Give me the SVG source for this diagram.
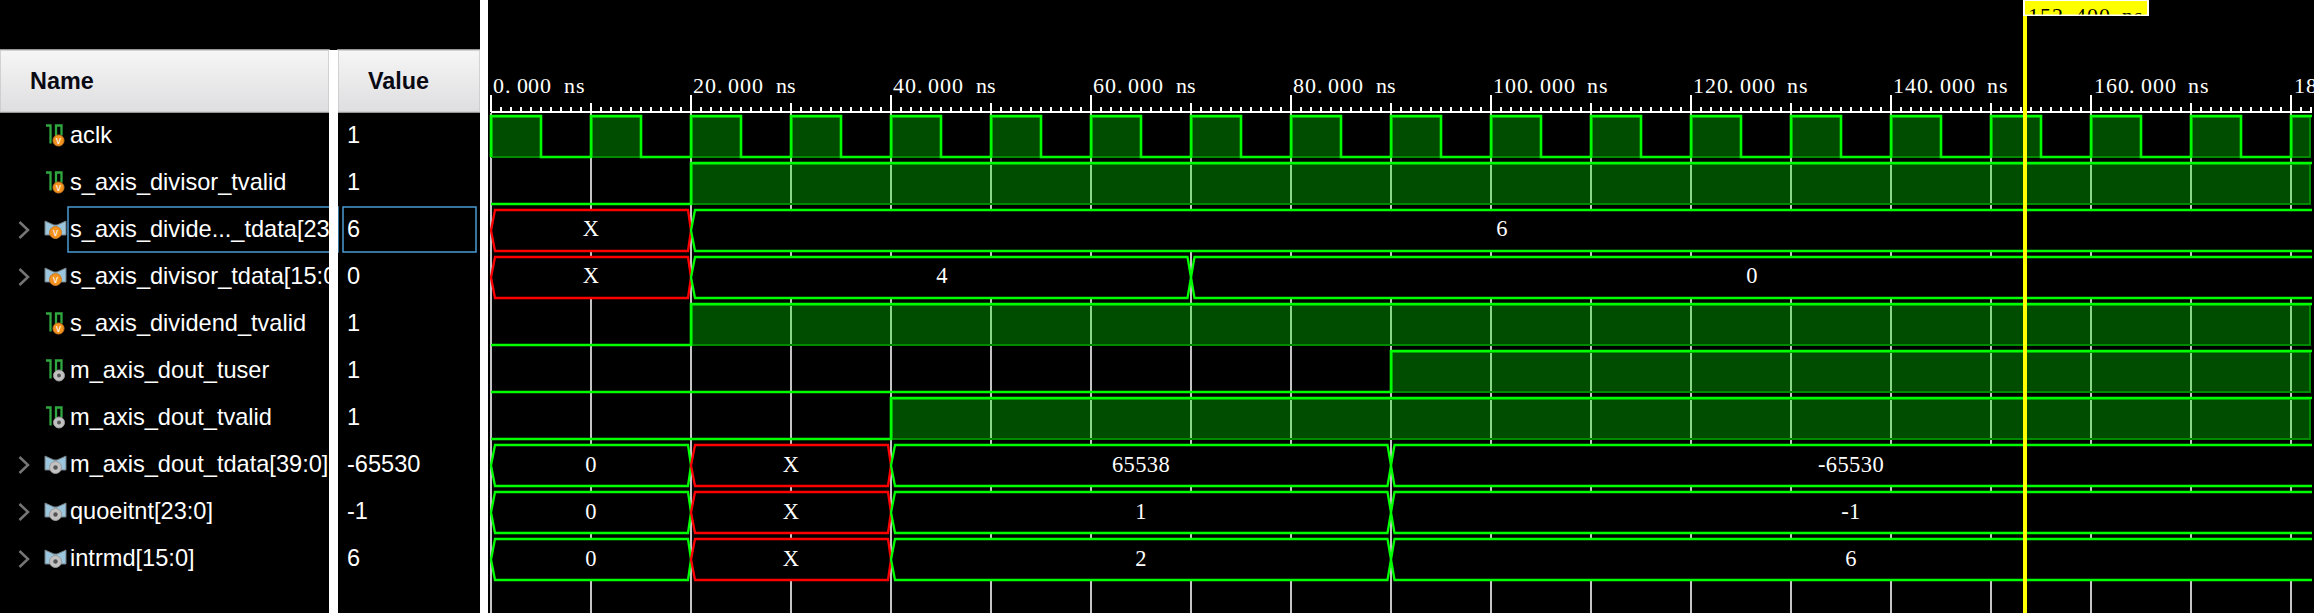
<svg xmlns="http://www.w3.org/2000/svg" width="2314" height="613" viewBox="0 0 2314 613">
<style>
.sans{font-family:"Liberation Sans",Arial,sans-serif;fill:#fff;font-size:23.6px}
.hd{font-family:"Liberation Sans",Arial,sans-serif;font-weight:bold;font-size:23.4px;fill:#0a0a14}
.rul{font-family:"Liberation Serif","Times New Roman",serif;font-size:22px;fill:#fff}
.val{font-family:"Liberation Serif","Times New Roman",serif;font-size:22.5px;fill:#fff;text-anchor:middle;letter-spacing:.4px}
.hi{fill:#0f0;fill-opacity:.3;stroke:#008a00;stroke-width:2}
.gl{fill:none;stroke:#0f0;stroke-width:2.600}
.bg{fill:#000;stroke:#0f0;stroke-width:2.300}
.br{fill:#000;stroke:#f00;stroke-width:2.300}
.grid{fill:none;stroke:#c4c4c4;stroke-width:2}
.sel{fill:none;stroke:#4a9ad4;stroke-width:1.500}
.chev{fill:none;stroke:#757575;stroke-width:2.500}
.p{fill:none;stroke:#2fa83f;stroke-width:2.300}
.in{fill:#f5921e;stroke:#c97a22;stroke-width:1}
.out{fill:#c2c2c2;stroke:#9a9a9a;stroke-width:1}
.dot{fill:#555}
.m{fill:#9cc6de;stroke:#707a80;stroke-width:1}
.v{font-family:"Liberation Sans",Arial,sans-serif;font-size:10px;fill:#fff;text-anchor:middle}
</style>
<defs>
<linearGradient id="hg" x1="0" y1="0" x2="0" y2="1"><stop offset="0" stop-color="#f6f6f6"/><stop offset="1" stop-color="#dedee0"/></linearGradient>
<clipPath id="nameclip"><rect x="0" y="112" width="329" height="501"/></clipPath>
<clipPath id="curclip"><rect x="2025" y="0" width="122" height="14.500"/></clipPath>
<pattern id="clk" patternUnits="userSpaceOnUse" x="491" y="116" width="100" height="43"><rect class="hi" x="1" y="1" width="49" height="40"/></pattern>
<path id="pulse" class="p" d="M-12 -9H-7.500V9M-2 2V-9H3.500V1"/>
<path id="mbus" class="m" d="M45 1 L54 5 H57 L66 1 V15 H45Z"/>
</defs>
<rect width="2314" height="613" fill="#000"/>

<g id="headers">
<rect x="0" y="50" width="329" height="62" fill="url(#hg)" stroke="#c8c8c8" stroke-width="1.500"/>
<rect x="338" y="50" width="142" height="62" fill="url(#hg)" stroke="#c8c8c8" stroke-width="1.500"/>
<rect x="329" y="50" width="9" height="563" fill="#fff"/>
<rect x="480" y="0" width="8" height="613" fill="#fff"/>
<text class="hd" x="30" y="89">Name</text>
<text class="hd" x="368" y="89">Value</text>
</g>

<g id="grid"><path class="grid" d="M491 113V613M591 113V613M691 113V613M791 113V613M891 113V613M991 113V613M1091 113V613M1191 113V613M1291 113V613M1391 113V613M1491 113V613M1591 113V613M1691 113V613M1791 113V613M1891 113V613M1991 113V613M2091 113V613M2191 113V613M2291 113V613"/></g>

<g id="ruler" fill="#fff">
<rect x="491" y="111" width="1821" height="2"/>
<line x1="500" y1="109.500" x2="2312" y2="109.500" stroke="#fff" stroke-width="5" stroke-dasharray="2 8"/>
<path stroke="#fff" stroke-width="2" fill="none" d="M491 95V112M691 95V112M891 95V112M1091 95V112M1291 95V112M1491 95V112M1691 95V112M1891 95V112M2091 95V112M2291 95V112M591 103V112M791 103V112M991 103V112M1191 103V112M1391 103V112M1591 103V112M1791 103V112M1991 103V112M2191 103V112"/>
<text class="rul" y="93" x="493 505 517 528 540 552 564 576">0.000 ns</text>
<text class="rul" y="93" x="693 705 717 728 740 752 764 776 787">20.000 ns</text>
<text class="rul" y="93" x="893 905 917 928 940 952 964 976 987">40.000 ns</text>
<text class="rul" y="93" x="1093 1105 1117 1128 1140 1152 1164 1176 1187">60.000 ns</text>
<text class="rul" y="93" x="1293 1305 1317 1328 1340 1352 1364 1376 1387">80.000 ns</text>
<text class="rul" y="93" x="1493 1505 1517 1528 1540 1552 1564 1576 1587 1599">100.000 ns</text>
<text class="rul" y="93" x="1693 1705 1717 1728 1740 1752 1764 1776 1787 1799">120.000 ns</text>
<text class="rul" y="93" x="1893 1905 1917 1928 1940 1952 1964 1976 1987 1999">140.000 ns</text>
<text class="rul" y="93" x="2094 2106 2118 2129 2141 2153 2165 2177 2188 2200">160.000 ns</text>
<text class="rul" y="93" x="2294 2306">18</text>
</g>

<g id="waves">
<g id="w-aclk">
<rect x="491" y="116" width="1800" height="43" fill="url(#clk)"/>
<rect class="hi" x="2292" y="117" width="18" height="40"/>
<path class="gl" d="M491 157V116H541V157H591V116H641V157H691V116H741V157H791V116H841V157H891V116H941V157H991V116H1041V157H1091V116H1141V157H1191V116H1241V157H1291V116H1341V157H1391V116H1441V157H1491V116H1541V157H1591V116H1641V157H1691V116H1741V157H1791V116H1841V157H1891V116H1941V157H1991V116H2041V157H2091V116H2141V157H2191V116H2241V157H2291V116H2312"/>
</g>
<g id="w-divisor-tvalid">
<rect class="hi" x="692" y="164" width="1618" height="40"/>
<path class="gl" d="M491 204H691V163H2312"/>
</g>
<g id="w-dividend-tdata">
<path class="br" d="M491 230.500L495 210H688L691 230.500L688 251H495Z"/>
<path class="bg" d="M2312 210H695L691 230.500L695 251H2312"/>
<text class="val" x="591" y="236">X</text>
<text class="val" x="1502" y="236">6</text>
</g>
<g id="w-divisor-tdata">
<path class="br" d="M491 277.500L495 257H688L691 277.500L688 298H495Z"/>
<path class="bg" d="M695 257H1187.500L1191 277.500L1187.500 298H695L691 277.500Z"/>
<path class="bg" d="M2312 257H1194.500L1191 277.500L1194.500 298H2312"/>
<text class="val" x="591" y="283">X</text>
<text class="val" x="942" y="283">4</text>
<text class="val" x="1752" y="283">0</text>
</g>
<g id="w-dividend-tvalid">
<rect class="hi" x="692" y="305" width="1618" height="40"/>
<path class="gl" d="M491 345H691V304H2312"/>
</g>
<g id="w-tuser">
<rect class="hi" x="1392" y="352" width="918" height="40"/>
<path class="gl" d="M491 392H1391V351H2312"/>
</g>
<g id="w-dout-tvalid">
<rect class="hi" x="892" y="399" width="1418" height="40"/>
<path class="gl" d="M491 439H891V398H2312"/>
</g>
<g id="w-dout-tdata">
<path class="bg" d="M491 465.500L495 445H688L691 465.500L688 486H495Z"/>
<path class="br" d="M695 445H888L891 465.500L888 486H695L691 465.500Z"/>
<path class="bg" d="M895 445H1387.500L1391 465.500L1387.500 486H895L891 465.500Z"/>
<path class="bg" d="M2312 445H1394.500L1391 465.500L1394.500 486H2312"/>
<text class="val" x="591" y="472">0</text>
<text class="val" x="791" y="472">X</text>
<text class="val" x="1141" y="472">65538</text>
<text class="val" x="1851" y="472">-65530</text>
</g>
<g id="w-quoeitnt">
<path class="bg" d="M491 512.500L495 492H688L691 512.500L688 533H495Z"/>
<path class="br" d="M695 492H888L891 512.500L888 533H695L691 512.500Z"/>
<path class="bg" d="M895 492H1387.500L1391 512.500L1387.500 533H895L891 512.500Z"/>
<path class="bg" d="M2312 492H1394.500L1391 512.500L1394.500 533H2312"/>
<text class="val" x="591" y="518.500">0</text>
<text class="val" x="791" y="518.500">X</text>
<text class="val" x="1141" y="518.500">1</text>
<text class="val" x="1851" y="518.500">-1</text>
</g>
<g id="w-intrmd">
<path class="bg" d="M491 559.500L495 539H688L691 559.500L688 580H495Z"/>
<path class="br" d="M695 539H888L891 559.500L888 580H695L691 559.500Z"/>
<path class="bg" d="M895 539H1387.500L1391 559.500L1387.500 580H895L891 559.500Z"/>
<path class="bg" d="M2312 539H1394.500L1391 559.500L1394.500 580H2312"/>
<text class="val" x="591" y="565.500">0</text>
<text class="val" x="791" y="565.500">X</text>
<text class="val" x="1141" y="565.500">2</text>
<text class="val" x="1851" y="565.500">6</text>
</g>
</g>

<g id="cursor">
<rect x="2023" y="0" width="126" height="16" fill="#fff"/>
<rect x="2025" y="1" width="122" height="13.500" fill="#ff0"/>
<text class="rul" style="fill:#000" clip-path="url(#curclip)" y="22.500" x="2028 2040 2052 2063 2075 2087 2099 2111 2122 2134">152.400 ns</text>
<rect x="2023" y="16" width="4" height="597" fill="#ff0"/>
</g>

<g id="selection">
<rect class="sel" x="68" y="207" width="270" height="45"/>
<rect class="sel" x="343" y="207" width="133" height="45"/>
</g>
<rect x="329" y="112" width="9" height="501" fill="#fff"/>

<g id="signals" clip-path="url(#nameclip)">
<g id="row-aclk">
<use href="#pulse" x="58" y="134.500"/><circle class="in" cx="58.500" cy="140.500" r="5.500"/><text class="v" x="58.500" y="144">v</text>
<text class="sans" x="70" y="142.500">aclk</text>
</g>
<g id="row-divisor-tvalid">
<use href="#pulse" x="58" y="181.500"/><circle class="in" cx="58.500" cy="187.500" r="5.500"/><text class="v" x="58.500" y="191">v</text>
<text class="sans" x="70" y="189.500">s_axis_divisor_tvalid</text>
</g>
<g id="row-dividend-tdata">
<path class="chev" d="M19.500 222L28 230L19.500 238"/>
<use href="#mbus" y="220"/><circle class="in" cx="55.500" cy="232.500" r="6"/><text class="v" x="55.500" y="236">v</text>
<text class="sans" x="70" y="236.500">s_axis_divide..._tdata[23</text>
</g>
<g id="row-divisor-tdata">
<path class="chev" d="M19.500 269L28 277L19.500 285"/>
<use href="#mbus" y="267"/><circle class="in" cx="55.500" cy="279.500" r="6"/><text class="v" x="55.500" y="283">v</text>
<text class="sans" x="70" y="283.500">s_axis_divisor_tdata[15:0</text>
</g>
<g id="row-dividend-tvalid">
<use href="#pulse" x="58" y="322.500"/><circle class="in" cx="58.500" cy="328.500" r="5.500"/><text class="v" x="58.500" y="332">v</text>
<text class="sans" x="70" y="330.500">s_axis_dividend_tvalid</text>
</g>
<g id="row-tuser">
<use href="#pulse" x="58" y="369.500"/><circle class="out" cx="59" cy="375.500" r="5.500"/><circle class="dot" cx="59" cy="375.500" r="2"/>
<text class="sans" x="70" y="377.500">m_axis_dout_tuser</text>
</g>
<g id="row-dout-tvalid">
<use href="#pulse" x="58" y="416.500"/><circle class="out" cx="59" cy="422.500" r="5.500"/><circle class="dot" cx="59" cy="422.500" r="2"/>
<text class="sans" x="70" y="424.500">m_axis_dout_tvalid</text>
</g>
<g id="row-dout-tdata">
<path class="chev" d="M19.500 457L28 465L19.500 473"/>
<use href="#mbus" y="455"/><circle class="out" cx="55.500" cy="467.500" r="6"/><circle class="dot" cx="55.500" cy="467.500" r="2.200"/>
<text class="sans" x="70" y="471.500">m_axis_dout_tdata[39:0]</text>
</g>
<g id="row-quoeitnt">
<path class="chev" d="M19.500 504L28 512L19.500 520"/>
<use href="#mbus" y="502"/><circle class="out" cx="55.500" cy="514.500" r="6"/><circle class="dot" cx="55.500" cy="514.500" r="2.200"/>
<text class="sans" x="70" y="518.500">quoeitnt[23:0]</text>
</g>
<g id="row-intrmd">
<path class="chev" d="M19.500 551L28 559L19.500 567"/>
<use href="#mbus" y="549"/><circle class="out" cx="55.500" cy="561.500" r="6"/><circle class="dot" cx="55.500" cy="561.500" r="2.200"/>
<text class="sans" x="70" y="565.500">intrmd[15:0]</text>
</g>
</g>

<g id="values">
<text class="sans" x="347" y="142.500">1</text>
<text class="sans" x="347" y="189.500">1</text>
<text class="sans" x="347" y="236.500">6</text>
<text class="sans" x="347" y="283.500">0</text>
<text class="sans" x="347" y="330.500">1</text>
<text class="sans" x="347" y="377.500">1</text>
<text class="sans" x="347" y="424.500">1</text>
<text class="sans" x="347" y="471.500">-65530</text>
<text class="sans" x="347" y="518.500">-1</text>
<text class="sans" x="347" y="565.500">6</text>
</g>
</svg>
